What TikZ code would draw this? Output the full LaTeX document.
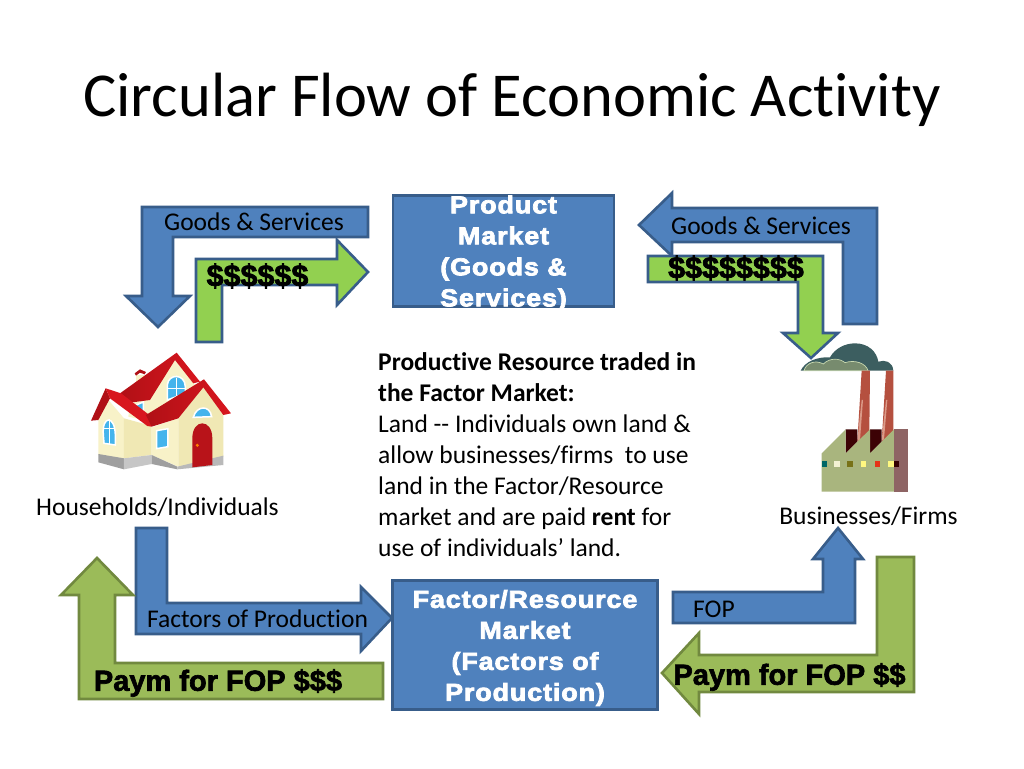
\documentclass[tikz,border=0pt]{standalone}
\usepackage{fontspec}
\setmainfont{Carlito}[Ligatures={NoCommon},BoldFeatures={Ligatures={NoCommon}}]
\newfontfamily\arialb{Liberation Sans Bold}[FakeBold=2.2]
\newfontfamily\arialw{Liberation Sans Bold}[FakeBold=3,FakeStretch=1.1,LetterSpace=3.5]
\definecolor{bfill}{HTML}{4F81BD}
\definecolor{bline}{HTML}{385D8A}
\definecolor{gfill}{HTML}{92D050}
\definecolor{ofill}{HTML}{9BBB59}
\definecolor{oline}{HTML}{71893F}
\definecolor{rooflight}{HTML}{D8161E}
\definecolor{roofdark}{HTML}{B01016}
\definecolor{wall}{HTML}{F8F2C8}
\definecolor{wallb}{HTML}{F0E8B4}
\definecolor{winb}{HTML}{45B4EC}
\definecolor{clouddark}{HTML}{3C5E60}
\definecolor{cloudlight}{HTML}{778B6E}
\definecolor{cloudedge}{HTML}{C8D8B0}
\definecolor{stack}{HTML}{B5503F}
\definecolor{stacklight}{HTML}{DB9A88}
\definecolor{maroon}{HTML}{3C0205}
\definecolor{body}{HTML}{A9B57E}
\definecolor{sidewall}{HTML}{8E6464}
\tikzset{
 bluearrow/.style={fill=bfill,draw=bline,line width=2.6pt,line join=miter},
 greenarrow/.style={fill=gfill,draw=bline,line width=2.6pt,line join=miter},
 olivearrow/.style={fill=ofill,draw=oline,line width=2.6pt,line join=miter},
 marketbox/.style={fill=bfill,draw=bline,line width=2.6pt,inner sep=0pt},
 markettext/.style={inner sep=0pt,text=white,align=center,font=\arialw\fontsize{24.5}{31}\selectfont},
 arrowtext/.style={inner sep=0pt,text=black,font=\fontsize{25.5}{29}\selectfont},
 moneytext/.style={inner sep=0pt,text=black,font=\arialb\fontsize{30.5}{30}\selectfont},
 paytext/.style={inner sep=0pt,text=black,font=\arialb\fontsize{29}{30}\selectfont},
 plaintext/.style={inner sep=0pt,text=black,font=\fontsize{25.5}{29}\selectfont},
 win/.style={fill=winb,draw=white,line width=1.5pt},
}
\begin{document}
\begin{tikzpicture}[x=1pt,y=-1pt]
\useasboundingbox (0,0) rectangle (1024,768);
\fill[white] (0,0) rectangle (1024,768);
\node[inner sep=0pt,font=\fontsize{62.5}{70}\selectfont] (title) at (512,100) {Circular Flow of Economic Activity};

% factory
\begin{scope}[shift={(780,320)},x=0.3333pt,y=-0.3333pt]
 \fill[clouddark] (62,152) .. controls (75,125) and (110,110) .. (150,112) .. controls (165,85) and (195,70) .. (225,70) .. controls (265,70) and (290,95) .. (295,125) .. controls (315,118) and (338,125) .. (340,152) -- cycle;
 \fill[cloudlight,draw=cloudedge,line width=0.7pt] (72,152) .. controls (78,130) and (105,118) .. (130,132) .. controls (150,112) and (180,115) .. (195,128) .. controls (225,118) and (258,130) .. (264,152) -- cycle;
 \fill[stack] (245,152) -- (270,152) -- (268,335) -- (232,365) -- cycle;
 \fill[stack] (318,152) -- (340,152) -- (340,335) -- (305,365) -- cycle;
 \fill[stacklight] (245,240) -- (249,240) -- (240,360) -- (232,362) -- cycle;
 \fill[stacklight] (318,240) -- (322,240) -- (312,358) -- (305,362) -- cycle;
 \fill[maroon] (197,328) -- (232,328) -- (232,365) -- (197,400) -- cycle;
 \fill[maroon] (270,328) -- (305,328) -- (305,365) -- (270,400) -- cycle;
 \fill[body] (125,400) -- (197,328) -- (197,400) -- (270,328) -- (270,400) -- (342,328) -- (342,515) -- (125,515) -- cycle;
 \fill[sidewall] (342,328) rectangle (385,515);
 \fill[teal!80!black] (125,424) rectangle (141,440);
 \fill[yellow!15!white!90!gray] (163,424) rectangle (180,440);
 \fill[olive!80!black] (202,424) rectangle (218,440);
 \fill[yellow!50!white] (242,424) rectangle (259,440);
 \fill[red!60!brown] (284,424) rectangle (300,440);
 \fill[yellow!50!white] (324,424) rectangle (342,440);
 \fill[black!80!red] (342,424) rectangle (358,440);
\end{scope}

% house
\begin{scope}[shift={(60,340)},x=0.3333pt,y=-0.3333pt]
 \fill[wall] (228,105) rectangle (252,135);
 \fill[roofdark] (224,100) -- (240,88) -- (258,96) -- (254,103) -- (240,98) -- (228,107) -- cycle;
 \fill[wall] (250,190) -- (345,60) -- (405,135) -- (360,200) -- (280,250) -- (250,250) -- cycle;
 \fill[wall] (210,190) -- (270,175) -- (270,225) -- (250,240) -- (205,230) -- cycle;
 \path[win] (222,198) -- (250,186) -- (250,215) -- (228,210) -- cycle;
 \path[win] (322,180) -- (322,135) .. controls (325,100) and (375,100) .. (376,140) -- (376,160) -- cycle;
 \draw[white,line width=1pt] (349,115) -- (349,172) (322,145) -- (376,145);
 \path[left color=roofdark,right color=rooflight] (180,160) -- (350,38) -- (420,125) -- (400,130) -- (345,60) -- (270,180) -- (210,188) -- cycle;
 \fill[wall] (115,240) -- (137,170) -- (192,235) -- (192,355) -- (115,345) -- cycle;
 \fill[wallb] (192,235) -- (275,258) -- (275,345) -- (192,355) -- cycle;
 \fill[wall] (275,262) -- (355,235) -- (355,380) -- (275,345) -- cycle;
 \fill[wallb] (355,235) -- (430,140) -- (490,225) -- (490,350) -- (355,380) -- cycle;
 \fill[gray!75] (115,342) -- (192,355) -- (192,388) -- (115,367) -- cycle;
 \fill[gray!45] (192,355) -- (275,345) -- (275,372) -- (192,388) -- cycle;
 \fill[gray!75] (275,345) -- (352,380) -- (352,388) -- (275,372) -- cycle;
 \fill[gray!55] (352,380) -- (490,347) -- (490,375) -- (352,388) -- cycle;
 \fill[roofdark] (93,242) -- (137,145) -- (150,175) -- (115,240) -- cycle;
 \fill[rooflight] (137,145) -- (183,160) -- (268,225) -- (275,260) -- (262,258) -- (150,175) -- cycle;
 \path[left color=roofdark,right color=rooflight] (432,118) -- (513,220) -- (490,225) -- (430,142) -- (355,235) -- (275,260) -- (258,225) -- cycle;
 \path[win] (130,285) .. controls (125,225) and (165,225) .. (166,285) -- (166,315) -- (132,310) -- cycle;
 \draw[white,line width=1pt] (148,238) -- (148,312) (130,265) -- (166,265);
 \path[win] (290,272) -- (324,266) -- (324,320) -- (290,326) -- cycle;
 \path[win] (400,232) .. controls (410,195) and (450,195) .. (455,230) -- cycle;
 \fill[rooflight!85!black] (397,295) .. controls (397,235) and (457,235) .. (457,295) -- (457,375) -- (397,382) -- cycle;
 \fill[orange] (412,316) circle (5);
\end{scope}

% boxes
\node[marketbox,minimum width=221pt,minimum height=111pt] (productbox) at (503.5,251) {};
\node[markettext] (product) at (503.5,253.5) {Product\\Market\\(Goods \&\\Services)};
\node[marketbox,minimum width=265pt,minimum height=129pt] (factorbox) at (525,645) {};
\node[markettext] (factor) at (525,648) {Factor/Resource\\Market\\ (Factors of\\Production)};

% arrows
\path[bluearrow] (142,207) -- (368,207) -- (368,237) -- (173,237) -- (173,296) -- (190,296) -- (158,327) -- (126,296) -- (142,296) -- cycle;
\path[greenarrow] (196,259) -- (337,259) -- (337,240) -- (368,272) -- (337,305) -- (337,285) -- (222,285) -- (222,342) -- (196,342) -- cycle;
\path[bluearrow] (639,225) -- (672,193) -- (672,208) -- (877,208) -- (877,324) -- (843,324) -- (843,242) -- (672,242) -- (672,256) -- cycle;
\path[greenarrow] (648,256) -- (823,256) -- (823,333) -- (838,333) -- (811,358) -- (783,333) -- (798,333) -- (798,282) -- (648,282) -- cycle;
\path[bluearrow] (136,528) -- (167,528) -- (167,603) -- (361,603) -- (361,587) -- (392,618) -- (361,651) -- (361,634) -- (136,634) -- cycle;
\path[olivearrow] (97,558) -- (133,595) -- (115,595) -- (115,663) -- (383,663) -- (383,699) -- (79,699) -- (79,595) -- (61,595) -- cycle;
\path[bluearrow] (673,592) -- (823,592) -- (823,559) -- (813,559) -- (838,528) -- (863,559) -- (855,559) -- (855,623) -- (673,623) -- cycle;
\path[olivearrow] (877,557) -- (914,557) -- (914,692) -- (699,692) -- (699,714) -- (662,673) -- (699,633) -- (699,655) -- (877,655) -- cycle;

% arrow labels
\node[arrowtext] (gs1) at (254,222) {Goods \& Services};
\node[moneytext] (m1) at (257.5,276) {\$\$\$\$\$\$};
\node[arrowtext] (gs2) at (761,226) {Goods \& Services};
\node[moneytext] (m2) at (736,268) {\$\$\$\$\$\$\$\$};
\node[arrowtext] (fop0) at (257.5,619) {Factors of Production};
\node[paytext] (pay1) at (218,683) {Paym for FOP \$\$\$};
\node[arrowtext] (fop1) at (714,609) {FOP};
\node[paytext] (pay2) at (789.5,677) {Paym for FOP \$\$};

% plain labels
\node[plaintext] (hh) at (157.5,507) {Households/Individuals};
\node[plaintext] (bf) at (868.5,516) {Businesses/Firms};
\node[plaintext,anchor=north west,align=left,font=\fontsize{25.5}{31}\selectfont] (res) at (378,352)
 {\textbf{Productive Resource traded in}\\\textbf{the Factor Market:}\\Land {-}{-} Individuals own land \&\\allow businesses/firms\ \ to use\\land in the Factor/Resource\\market and are paid \textbf{rent} for\\use of individuals’ land.};
\end{tikzpicture}
\end{document}
